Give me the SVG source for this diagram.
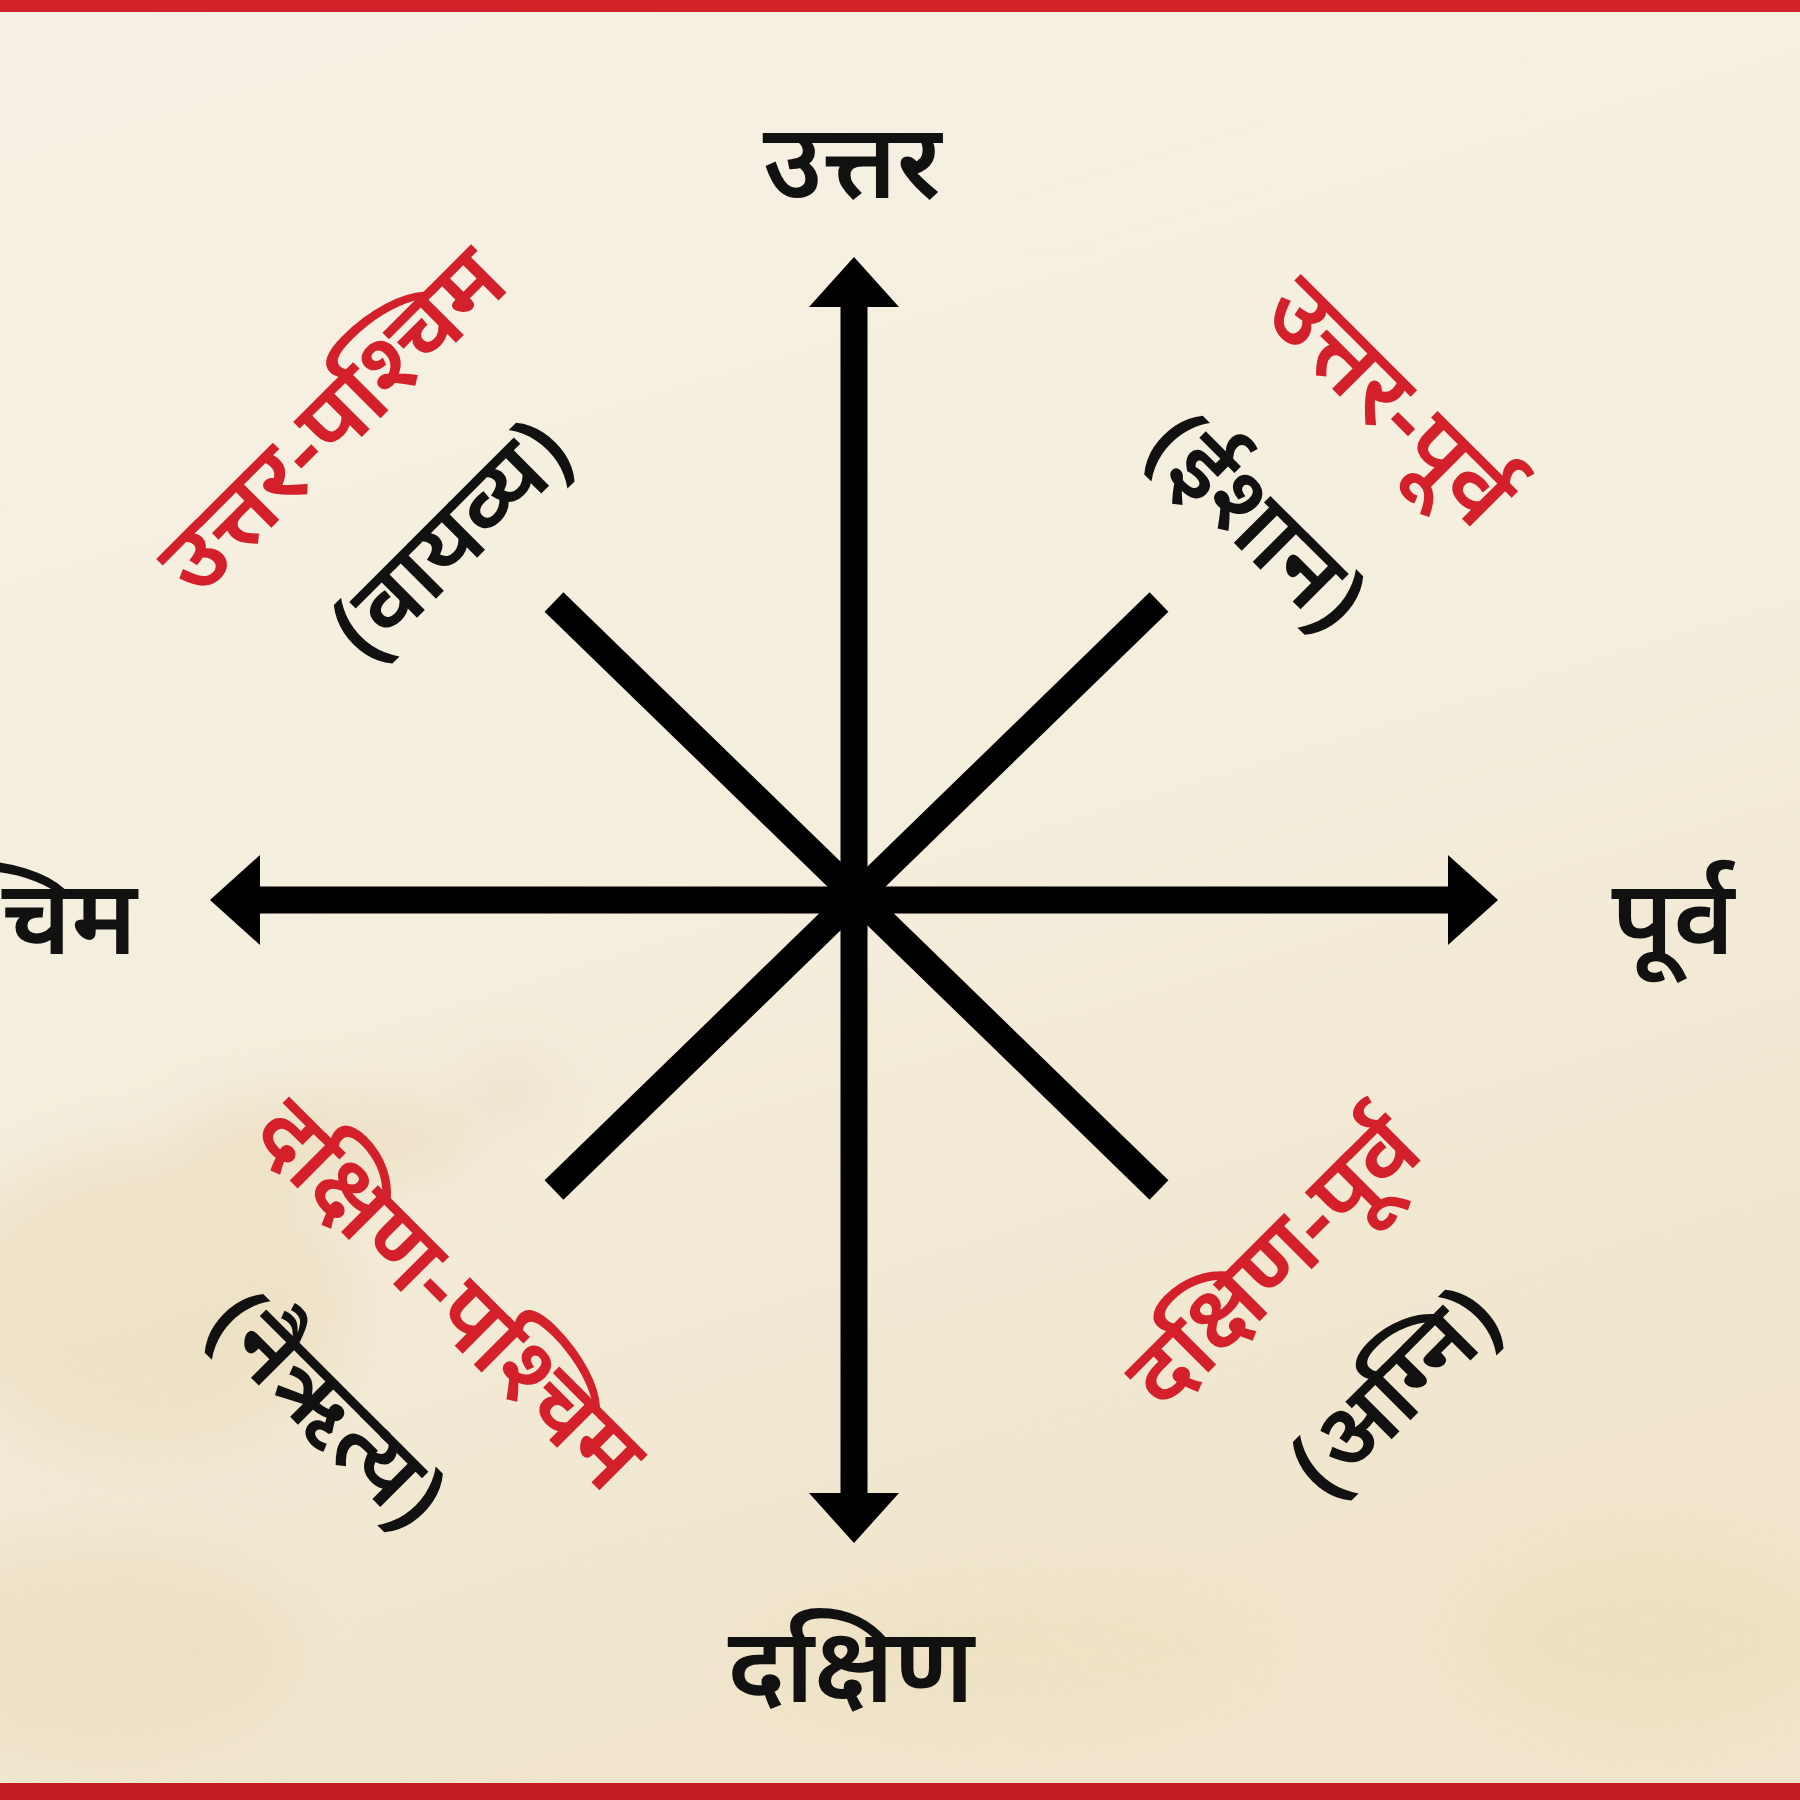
<svg xmlns="http://www.w3.org/2000/svg" width="1800" height="1800" viewBox="0 0 1800 1800">
<defs>
<style>
.lbl{font-family:"Noto Sans","Noto Sans Devanagari",sans-serif;font-weight:600;text-anchor:middle;}
.dir{font-size:104px;fill:#111;}
.sub{font-size:95px;}
.red{fill:#d4202a;}
.blk{fill:#111;}
.shaft{stroke:#000;stroke-width:27;fill:none;}
</style>
<linearGradient id="paper" x1="0" y1="0" x2="0.3" y2="1">
<stop offset="0" stop-color="#f6f1e4"/>
<stop offset="0.55" stop-color="#f4eedd"/>
<stop offset="1" stop-color="#f0e5cc"/>
</linearGradient>
<filter id="blur" x="-50%" y="-50%" width="200%" height="200%"><feGaussianBlur stdDeviation="30"/></filter>
<marker id="head" viewBox="0 0 50 90" refX="2" refY="45" markerWidth="50" markerHeight="90" markerUnits="userSpaceOnUse" orient="auto-start-reverse">
<path d="M0,0 L50,45 L0,90 Z" fill="#000"/>
</marker>
</defs>
<rect x="0" y="0" width="1800" height="1800" fill="url(#paper)"/>
<g filter="url(#blur)" opacity="0.35">
<ellipse cx="150" cy="1300" rx="200" ry="150" fill="#e6d2a8"/>
<ellipse cx="330" cy="1140" rx="150" ry="40" fill="#e2cca0"/>
<ellipse cx="1650" cy="1640" rx="180" ry="90" fill="#ead6a8"/>
<ellipse cx="100" cy="1650" rx="200" ry="100" fill="#e6d2ac"/>
<ellipse cx="510" cy="1090" rx="40" ry="20" fill="#d8bf94"/>
<ellipse cx="1000" cy="1650" rx="260" ry="70" fill="#ecdcb8"/>
</g>
<rect x="0" y="0" width="1800" height="12" fill="#d2232a"/>
<rect x="0" y="1783" width="1800" height="17" fill="#c41e24"/>
<g id="connectors">
<line class="shaft" x1="854" y1="305" x2="854" y2="1495" marker-start="url(#head)" marker-end="url(#head)"/>
<line class="shaft" x1="258" y1="900" x2="1450" y2="900" marker-start="url(#head)" marker-end="url(#head)"/>
<line class="shaft" x1="554" y1="602" x2="1159" y2="1190"/>
<line class="shaft" x1="1159" y1="602" x2="554" y2="1190"/>
</g>
<g id="north"><text class="lbl dir" x="852" y="198">उत्तर</text></g>
<g id="south"><text class="lbl dir" x="851" y="1702">दक्षिण</text></g>
<g id="east"><text class="lbl dir" x="1673" y="954">पूर्व</text></g>
<g id="west"><text class="lbl dir" x="137" y="954" style="text-anchor:end">पश्चिम</text></g>
<g id="northwest">
<text class="lbl sub red" transform="translate(333,422) rotate(-45)" y="31">उत्तर-पश्चिम</text>
<text class="lbl sub blk" transform="translate(451,540) rotate(-45)" y="31">(वायव्य)</text>
</g>
<g id="northeast">
<text class="lbl sub red" transform="translate(1389,402) rotate(45)" y="31">उत्तर-पूर्व</text>
<text class="lbl sub blk" transform="translate(1257,522) rotate(45)" y="31">(ईशान)</text>
</g>
<g id="southwest">
<text class="lbl sub red" transform="translate(448,1295) rotate(45)" y="31">दक्षिण-पश्चिम</text>
<text class="lbl sub blk" transform="translate(327,1410) rotate(45)" y="31">(नैऋत्य)</text>
</g>
<g id="southeast">
<text class="lbl sub red" transform="translate(1274,1263) rotate(-45)" y="31">दक्षिण-पूर्व</text>
<text class="lbl sub blk" transform="translate(1395,1392) rotate(-45)" y="31">(अग्नि)</text>
</g>
</svg>
